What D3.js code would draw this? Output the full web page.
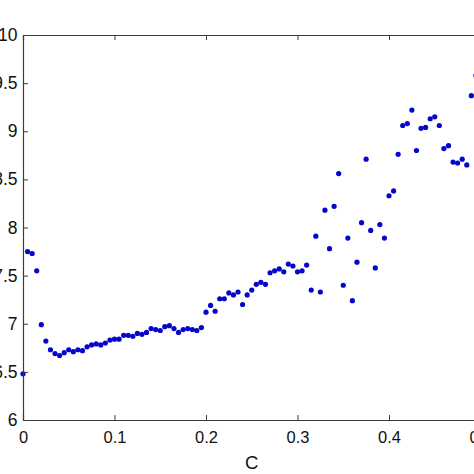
<!DOCTYPE html>
<html>
<head>
<meta charset="utf-8">
<script src="https://cdn.jsdelivr.net/npm/d3@7"></script>
<style>
  body { margin: 0; background: #fff; }
  svg { display: block; font-family: "Liberation Sans", Arial, sans-serif; }
</style>
</head>
<body>
<div></div>
<script>
// tamaño del lienzo
var w = 474
var h = 474

// datos
var cValues = [0, 0.005, 0.01, 0.015, 0.02, 0.025, 0.03, 0.035, 0.04, 0.045,
    0.05, 0.055, 0.06, 0.065, 0.07, 0.075, 0.08, 0.085, 0.09, 0.095,
    0.1, 0.105, 0.11, 0.115, 0.12, 0.125, 0.13, 0.135, 0.14, 0.145,
    0.15, 0.155, 0.16, 0.165, 0.17, 0.175, 0.18, 0.185, 0.19, 0.195,
    0.2, 0.205, 0.21, 0.215, 0.22, 0.225, 0.23, 0.235, 0.24, 0.245,
    0.25, 0.255, 0.26, 0.265, 0.27, 0.275, 0.28, 0.285, 0.29, 0.295,
    0.3, 0.305, 0.31, 0.315, 0.32, 0.325, 0.33, 0.335, 0.34, 0.345,
    0.35, 0.355, 0.36, 0.365, 0.37, 0.375, 0.38, 0.385, 0.39, 0.395,
    0.4, 0.405, 0.41, 0.415, 0.42, 0.425, 0.43, 0.435, 0.44, 0.445,
    0.45, 0.455, 0.46, 0.465, 0.47, 0.475, 0.48, 0.485, 0.49, 0.495]

var yValues = [6.48, 7.75, 7.73, 7.55, 6.99, 6.82, 6.73, 6.69, 6.67, 6.70,
    6.73, 6.71, 6.73, 6.72, 6.76, 6.78, 6.79, 6.78, 6.80, 6.83,
    6.84, 6.84, 6.88, 6.88, 6.87, 6.90, 6.89, 6.91, 6.95, 6.94,
    6.93, 6.97, 6.98, 6.95, 6.91, 6.94, 6.95, 6.94, 6.93, 6.96,
    7.12, 7.19, 7.13, 7.26, 7.26, 7.32, 7.30, 7.33, 7.20, 7.30,
    7.35, 7.41, 7.43, 7.41, 7.53, 7.55, 7.57, 7.54, 7.62, 7.60,
    7.54, 7.55, 7.61, 7.35, 7.91, 7.33, 8.18, 7.78, 8.22, 8.56,
    7.40, 7.89, 7.24, 7.64, 8.05, 8.71, 7.97, 7.58, 8.03, 7.89,
    8.33, 8.38, 8.76, 9.06, 9.08, 9.22, 8.80, 9.03, 9.04, 9.13,
    9.15, 9.06, 8.82, 8.85, 8.68, 8.67, 8.71, 8.65, 9.37, 9.58]

var xTicks = [0, 0.1, 0.2, 0.3, 0.4, 0.5]
var yTicks = [6, 6.5, 7, 7.5, 8, 8.5, 9, 9.5, 10]
var xLabel = 'C'

var svg = d3.select('div')
    .append('svg')
    .attr('width', w)
    .attr('height', h)

svg.append('rect').attr('width', w).attr('height', h).attr('fill', '#fff')

// escalas (el eje se sale por la derecha como en la imagen)
var scaleX = d3.scaleLinear().domain([0, 0.5]).range([23, 480.5])
var scaleY = d3.scaleLinear().domain([6, 10]).range([420, 35])

var axisColor = '#3c3c3c'

// puntos
svg.append('g')
    .selectAll('circle')
    .data(cValues)
    .enter()
    .append('circle')
    .attr('cx', (d) => scaleX(d))
    .attr('cy', (d, i) => scaleY(yValues[i]))
    .attr('r', 2.6)
    .attr('fill', '#0505cc')

// ejes
var xaxis = d3.axisBottom(scaleX).tickValues(xTicks).tickSize(-5).tickPadding(11)
    .tickFormat((d) => d3.format('')(d))
var xaxisTop = d3.axisTop(scaleX).tickValues(xTicks).tickSize(-5).tickFormat('')
var yaxis = d3.axisLeft(scaleY).tickValues(yTicks).tickSize(-5).tickPadding(5.5)
    .tickFormat((d) => d3.format('')(d))

function styleAxis(g, size) {
    g.select('.domain').attr('stroke', axisColor).attr('stroke-width', 1.2)
    g.selectAll('.tick line').attr('stroke', axisColor)
    g.selectAll('.tick text').attr('fill', '#111').style('font-size', size)
        .style('font-family', '"Liberation Sans", Arial, sans-serif')
}

svg.append('g').attr('transform', 'translate(0,' + scaleY(6) + ')').call(xaxis).call(styleAxis, '16.5px')
svg.append('g').attr('transform', 'translate(0,' + scaleY(10) + ')').call(xaxisTop).call(styleAxis, '16.5px')
svg.append('g').attr('transform', 'translate(' + scaleX(0) + ',0)').call(yaxis).call(styleAxis, '17.5px')

// etiqueta del eje x
svg.append('text')
    .attr('x', scaleX(0.25))
    .attr('y', 469)
    .attr('text-anchor', 'middle')
    .attr('fill', '#111')
    .style('font-size', '18.5px')
    .text(xLabel)
</script>
</body>
</html>
